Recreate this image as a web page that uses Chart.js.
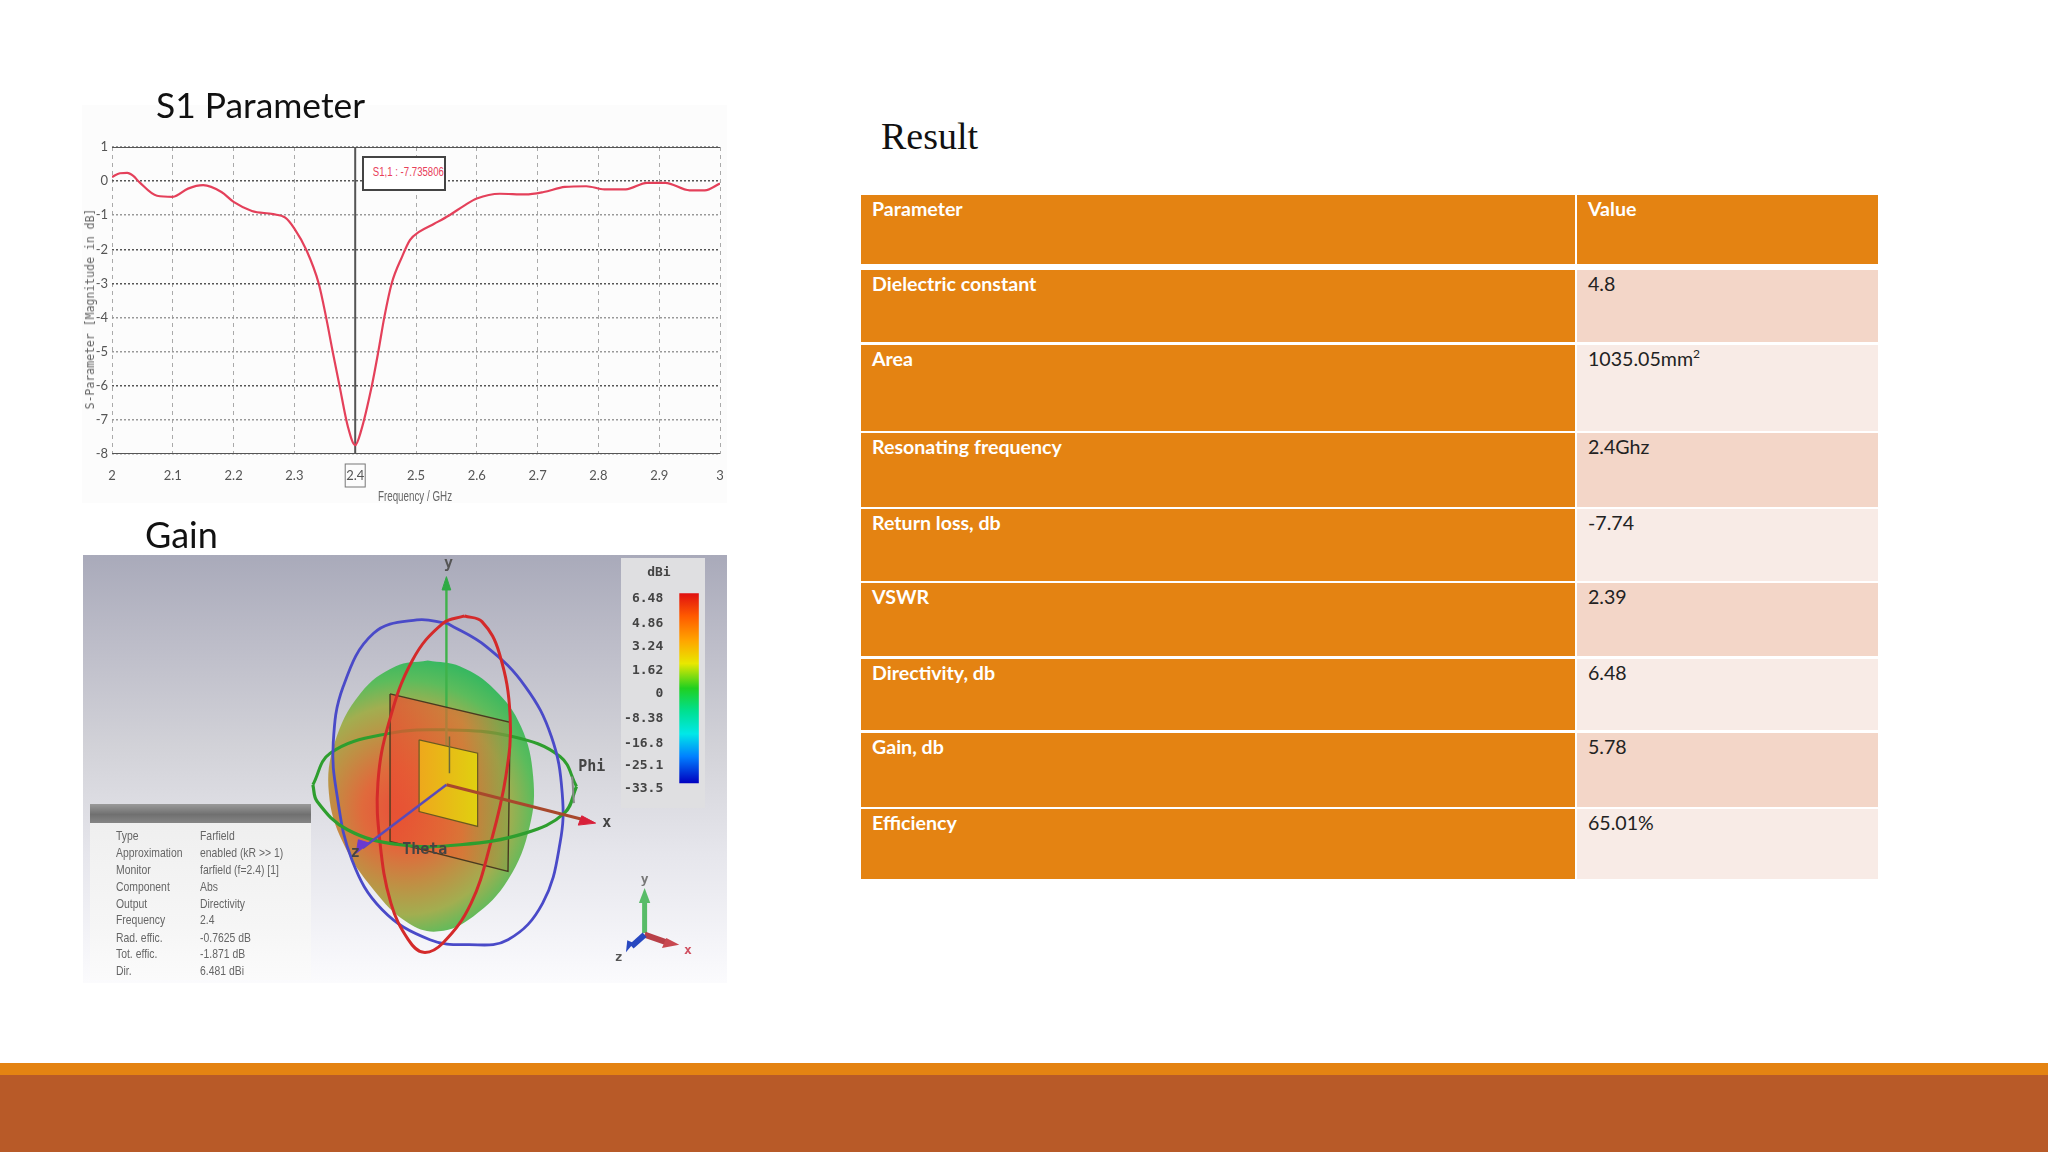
<!DOCTYPE html>
<html><head><meta charset="utf-8">
<script src="https://cdn.jsdelivr.net/npm/chart.js@4/dist/chart.umd.js"></script>
<style>
html,body{margin:0;padding:0;background:#fff;width:2048px;height:1152px;overflow:hidden;position:relative}
.abs{position:absolute}
.ttl{position:absolute;font-family:Lato,"Noto Sans",sans-serif;color:#111;line-height:1;white-space:nowrap}
#sPanel{left:82px;top:105px;width:645px;height:398px;background:#fcfcfc;filter:blur(.55px)}
#sCanvas{position:absolute;left:-12px;top:26px}
#marker{position:absolute;left:280px;top:51px;width:84px;height:35px;border:2px solid #444;background:#fff;box-sizing:border-box;color:#e8405a;font:12px "Liberation Sans",sans-serif;line-height:29px;text-align:center;white-space:nowrap}
#marker span{display:inline-block;transform:scaleX(.8);transform-origin:center}
#yTitle{position:absolute;left:8px;top:204px;transform:translate(-50%,-50%) rotate(-90deg);font:11.5px "DejaVu Sans Mono",monospace;color:#666;white-space:nowrap}
#xTitle{position:absolute;left:333px;top:391px;transform:translate(-50%,-50%) scaleX(.7);font:14px "Liberation Sans",sans-serif;color:#666;white-space:nowrap}
#gPanel{left:83px;top:555px;width:644px;height:428px;background:linear-gradient(180deg,#a9aaba 0%,#bcbcc8 20%,#d2d2d8 45%,#e6e6ec 70%,#f4f4f8 90%,#fbfbfd 100%);filter:blur(.6px);overflow:hidden}
#gPanel canvas{position:absolute;left:0;top:0}
.lbl{position:absolute;white-space:nowrap;line-height:1}
#info{position:absolute;left:7px;top:249px;width:221px;height:176px;background:linear-gradient(180deg,#eeeeee,#f6f6f6 70%,#fbfbfb)}
#infoHead{position:absolute;left:7px;top:249px;width:221px;height:19px;background:linear-gradient(180deg,#9a9a9a,#707070 55%,#858585)}
#cbPanel{position:absolute;left:538px;top:3px;width:84px;height:250px;background:#dfdfe1}
#tbl{position:absolute;left:861px;top:195px;width:1017px;height:684px;font-family:Lato,"Noto Sans",sans-serif;font-size:19.6px}
.cell{position:absolute;box-sizing:border-box;padding:2px 0 0 11px;line-height:1.2}
.k{background:#E48312;color:#fff;font-weight:700}
.v{color:#222}
sup{font-size:12px;line-height:0}
#band1{left:0;top:1063px;width:2048px;height:12px;background:#E48312}
#band2{left:0;top:1075px;width:2048px;height:77px;background:#B85A28}
</style></head><body>
<div id="sPanel" class="abs"><canvas id="sCanvas" width="680" height="380" style="width:680px;height:380px"></canvas>
<div id="marker"><span></span></div><div id="yTitle"></div><div id="xTitle"></div></div>
<div class="ttl" style="left:156px;top:87px;font-size:35.4px">S1 Parameter</div>
<div class="ttl" style="left:145px;top:516px;font-size:36px">Gain</div>
<div class="ttl" style="left:881px;top:117px;font-size:38px;font-family:'Liberation Serif',serif">Result</div>
<div id="gPanel" class="abs">
  <div id="cbPanel"></div>
  <div id="info"></div><div id="infoHead"></div>
  <canvas id="gCanvas" width="644" height="428" style="width:644px;height:428px"></canvas>
  <div id="gText"></div>
</div>
<div id="tbl"></div>
<div id="band1" class="abs"></div><div id="band2" class="abs"></div>
<script>
// ---------- S-parameter data ----------
const freqGHz = [2,2.013,2.025,2.035,2.045,2.074,2.1,2.125,2.15,2.18,2.2,2.23,2.265,2.285,2.3,2.32,2.34,2.352,2.363,2.374,2.388,2.4,2.41,2.427,2.438,2.448,2.46,2.477,2.49,2.505,2.53,2.555,2.58,2.6,2.638,2.68,2.71,2.745,2.78,2.81,2.845,2.88,2.91,2.95,2.975,3];
const s11dB = [0.12,0.23,0.24,0.15,-0.03,-0.43,-0.46,-0.22,-0.12,-0.32,-0.61,-0.875,-0.97,-1.07,-1.39,-2.03,-3.0,-3.98,-5.0,-5.98,-7.2,-7.74,-7.3,-6.03,-5.0,-3.98,-3.0,-2.22,-1.73,-1.49,-1.25,-1.0,-0.71,-0.51,-0.37,-0.39,-0.32,-0.17,-0.15,-0.24,-0.24,-0.05,-0.05,-0.27,-0.27,-0.07];
const xTicks = [2,2.1,2.2,2.3,2.4,2.5,2.6,2.7,2.8,2.9,3];
const yTicks = [1,0,-1,-2,-3,-4,-5,-6,-7,-8];
const markerFreq = 2.4;
const markerText = "S1,1 : -7.735806";
const xTitle = "Frequency / GHz";
const yTitle = "S-Parameter [Magnitude in dB]";

// ---------- Result table ----------
const paramNames = ["Parameter","Dielectric constant","Area","Resonating frequency","Return loss, db","VSWR","Directivity, db","Gain, db","Efficiency"];
const paramValues = ["Value","4.8","1035.05mm<sup>2</sup>","2.4Ghz","-7.74","2.39","6.48","5.78","65.01%"];
const rowTops = [0,75,150,238,314,388,464,538,614];
const rowBottoms = [69,147,236,312,386,461,535,612,684];

// ---------- Far-field picture outlines ----------
const blobX = [825,900,980,1040,1068,1060,1010,930,850,780,700,630,597,610,670,750,825];
const blobY = [452,470,540,650,800,950,1110,1220,1265,1240,1140,1000,850,700,550,470,452];
const plateX = [738,1015,1010,738,738];
const plateY = [552,637,1085,995,552];
const patchX = [805,940,940,805,805];
const patchY = [690,730,950,905,690];
const blueX = [870,800,700,630,607,615,650,720,830,920,1010,1090,1130,1135,1110,1050,960,870];
const blueY = [340,330,370,530,700,850,1050,1200,1290,1305,1290,1180,1000,850,680,530,410,340];
const redX = [910,860,790,735,710,715,740,780,815,860,925,970,1005,1015,990,950,910];
const redY = [318,340,450,640,820,1000,1180,1290,1328,1300,1180,1000,800,620,430,335,318];
const greenBackX = [1168,1130,1020,870,730,600,560];
const greenBackY = [830,740,680,660,672,730,825];
const greenFrontX = [560,570,640,760,900,1050,1140,1168];
const greenFrontY = [825,875,960,1005,1005,970,910,830];
const cbX = [1405,1450,1450,1405,1405];
const cbY = [250,250,820,820,250];
const axisYX = [868,868], axisYY = [825,215];
const axisXX = [868,1185], axisXY = [825,930];
const axisZX = [868,675], axisZY = [825,1015];
const headYX = [858,868,878,858], headYY = [240,200,240,240];
const headXX = [1180,1212,1172,1180], headXY = [918,940,946,918];
const headZX = [690,660,665,690], headZY = [1000,1030,990,1000];
const feedX = [875,875], feedY = [680,790];
const phiX = [1162,1158], phiY = [880,800];
const triYX = [1325,1325], triYY = [1270,1170];
const triXX = [1325,1380], triXY = [1275,1300];
const triZX = [1325,1295], triZY = [1275,1310];
const triHeadYX = [1312,1325,1338,1312], triHeadYY = [1180,1135,1180,1180];
const triHeadXX = [1375,1405,1365,1375], triHeadXY = [1285,1305,1315,1285];
const triHeadZX = [1300,1282,1285,1300], triHeadZY = [1300,1328,1292,1300];

const cbLabels = ["6.48","4.86","3.24","1.62","0","-8.38","-16.8","-25.1","-33.5"];
const cbLabelY = [262,337,405,477,547,620,695,762,830];
const infoKeys = ["Type","Approximation","Monitor","Component","Output","Frequency","Rad. effic.","Tot. effic.","Dir."];
const infoVals = ["Farfield","enabled (kR >> 1)","farfield (f=2.4) [1]","Abs","Directivity","2.4","-0.7625 dB","-1.871 dB","6.481 dBi"];
const infoY = [975,1027,1077,1127,1180,1227,1280,1328,1380];
const sceneLabels = [["y",873,158,"#555",15],["x",1238,937,"#444",15],["z",658,1025,"#444",15],["Phi",1203,768,"#444",15],["Theta",818,1018,"#444",15],["dBi",1358,183,"#444",13],["y",1325,1103,"#777",13],["x",1425,1318,"#d05060",13],["z",1265,1338,"#555",13]];

// ---------- S-parameter chart ----------
document.querySelector('#marker span').textContent = markerText;
document.getElementById('yTitle').textContent = yTitle;
document.getElementById('xTitle').textContent = xTitle;
const pts = (xs, ys) => xs.map((x,i)=>({x, y: ys[i]}));
const darkRows = [0,-2,-3,-6];
const boxTick = {
  id:'boxTick',
  afterDraw(c){
    const x=c.scales.x.getPixelForValue(markerFreq), y=c.chartArea.bottom, g=c.ctx;
    g.save(); g.strokeStyle='#777'; g.lineWidth=1; g.strokeRect(x-10,y+10,20,23); g.restore();
  }
};
const tickFont='Lato,"Liberation Sans",sans-serif';
new Chart(document.getElementById('sCanvas'),{
  type:'scatter',
  plugins:[boxTick],
  data:{datasets:[
    {data:pts(freqGHz,s11dB),showLine:true,borderColor:'#e4405a',borderWidth:2.2,pointRadius:0,cubicInterpolationMode:'monotone',order:1},
    {data:pts([markerFreq,markerFreq],[yTicks[0],yTicks[9]]),showLine:true,borderColor:'#555',borderWidth:2,pointRadius:0,order:2},
    {data:pts([2,3],[yTicks[0],yTicks[0]]),showLine:true,borderColor:'#555',borderWidth:2,pointRadius:0,order:3},
    {data:pts([2,3],[yTicks[9],yTicks[9]]),showLine:true,borderColor:'#555',borderWidth:2,pointRadius:0,order:3}
  ]},
  options:{
    responsive:false,animation:false,
    layout:{padding:{top:16,right:30,left:0,bottom:0}},
    plugins:{legend:{display:false},tooltip:{enabled:false}},
    scales:{
      x:{type:'linear',min:2,max:3,afterBuildTicks:a=>{a.ticks=xTicks.map(v=>({value:v}))},afterFit:s=>{s.height=57},
        grid:{color:'#aaa',lineWidth:1,drawTicks:false},border:{dash:[4,4],display:false},
        ticks:{padding:14,maxRotation:0,color:'#555',font:{family:tickFont,size:13},callback:v=>String(v)}},
      y:{type:'linear',min:-8,max:1,afterBuildTicks:a=>{a.ticks=yTicks.map(v=>({value:v}))},afterFit:s=>{s.width=42},
        grid:{color:c=>darkRows.includes(c.tick&&c.tick.value)?'#555':'#999',lineWidth:1.5,drawTicks:false},border:{dash:[2,2],display:false},
        ticks:{padding:4,color:'#555',font:{family:tickFont,size:13},callback:v=>String(v)}}
    }
  }
});

// ---------- Far-field chart ----------
function blobFill(c){
  const a=c.chart.chartArea; if(!a) return '#90b060';
  const sx=c.chart.scales.x, sy=c.chart.scales.y, g=c.chart.ctx;
  const cx=sx.getPixelForValue(770), cy=sy.getPixelForValue(900);
  const gr=g.createRadialGradient(cx,cy,5,cx,cy,152);
  gr.addColorStop(0,'#e8503a');gr.addColorStop(.25,'#e06a3c');gr.addColorStop(.48,'#bf9044');gr.addColorStop(.68,'#a2ae50');gr.addColorStop(.85,'#5cbc5c');gr.addColorStop(1,'#38b860');
  return gr;
}
function patchFill(c){
  const a=c.chart.chartArea; if(!a) return '#e8c010';
  const sx=c.chart.scales.x,g=c.chart.ctx;
  const gr=g.createLinearGradient(sx.getPixelForValue(805),0,sx.getPixelForValue(940),0);
  gr.addColorStop(0,'#eea81c');gr.addColorStop(1,'#e0d010');return gr;
}
function plateFill(c){
  const a=c.chart.chartArea; if(!a) return 'rgba(230,100,50,.5)';
  const sx=c.chart.scales.x,g=c.chart.ctx;
  const gr=g.createLinearGradient(sx.getPixelForValue(738),0,sx.getPixelForValue(1015),0);
  gr.addColorStop(0,'rgba(232,80,50,.78)');gr.addColorStop(.6,'rgba(224,110,50,.66)');gr.addColorStop(1,'rgba(130,160,70,.6)');return gr;
}
function cbFill(c){
  const a=c.chart.chartArea; if(!a) return '#0f0';
  const sy=c.chart.scales.y,g=c.chart.ctx;
  const gr=g.createLinearGradient(0,sy.getPixelForValue(250),0,sy.getPixelForValue(820));
  [[0,'#e01010'],[.12,'#ff5a00'],[.25,'#ffa500'],[.37,'#e8e800'],[.5,'#20d020'],[.62,'#00e090'],[.74,'#00e8e8'],[.86,'#0080ff'],[1,'#0000c0']].forEach(s=>gr.addColorStop(s[0],s[1]));
  return gr;
}
const shapes = [
  {xs:blobX,ys:blobY,fill:blobFill,tension:.4},
  {xs:greenBackX,ys:greenBackY,line:'#2e9e2e',w:3,tension:.4},
  {xs:axisYX,ys:axisYY,line:'#3fb24a',w:2.4},
  {xs:plateX,ys:plateY,fill:plateFill,line:'#4a3a20',w:1.4},
  {xs:patchX,ys:patchY,fill:patchFill,line:'#6a5a20',w:1.2},
  {xs:cbX,ys:cbY,fill:cbFill},
  {xs:blueX,ys:blueY,line:'#4a4ac8',w:2.8,tension:.4},
  {xs:redX,ys:redY,line:'#d42a2a',w:3,tension:.4},
  {xs:greenFrontX,ys:greenFrontY,line:'#2e9e2e',w:3.2,tension:.4},
  {xs:headYX,ys:headYY,fill:'#2faa44',line:'#2faa44',w:1},
  {xs:axisXX,ys:axisXY,line:'#a8482c',w:3},
  {xs:headXX,ys:headXY,fill:'#d8203a',line:'#d8203a',w:1},
  {xs:axisZX,ys:axisZY,line:'#5a4ab8',w:2.5},
  {xs:headZX,ys:headZY,fill:'#6a3ad0',line:'#6a3ad0',w:1},
  {xs:feedX,ys:feedY,line:'#6a6a3a',w:1.5},
  {xs:phiX,ys:phiY,line:'#8a8a8a',w:2},
  {xs:triYX,ys:triYY,line:'#58bc68',w:5},
  {xs:triHeadYX,ys:triHeadYY,fill:'#58bc68'},
  {xs:triXX,ys:triXY,line:'#b84048',w:6},
  {xs:triHeadXX,ys:triHeadXY,fill:'#c84850'},
  {xs:triZX,ys:triZY,line:'#2848c0',w:6},
  {xs:triHeadZX,ys:triHeadZY,fill:'#2848c0'}
];
new Chart(document.getElementById('gCanvas'),{
  type:'scatter',
  data:{datasets:shapes.map((s,i)=>({
    data:pts(s.xs,s.ys),showLine:true,pointRadius:0,order:shapes.length-i,
    tension:s.tension||0,borderColor:s.line||'rgba(0,0,0,0)',borderWidth:s.w||0,
    fill:s.fill?'shape':false,backgroundColor:s.fill||'rgba(0,0,0,0)'
  }))},
  options:{responsive:false,animation:false,layout:{padding:0},
    plugins:{legend:{display:false},tooltip:{enabled:false}},
    scales:{x:{type:'linear',display:false,min:30,max:1515},y:{type:'linear',display:false,reverse:true,min:135,max:1420}}}
});

// ---------- Real text for the far-field picture ----------
const gt=document.getElementById('gText');
const gx=X=>(X-30)/2.306, gy=Y=>(Y-135)/3;
function addText(t,X,Y,css,align){
  const d=document.createElement('div');d.className='lbl';d.textContent=t;d.style.cssText=css;
  d.style.left=gx(X)+'px';d.style.top=gy(Y)+'px';
  d.style.transform=(align==='r'?'translate(-100%,-50%)':align==='c'?'translate(-50%,-50%)':'translateY(-50%)')+(css.includes('--n')?' scaleX(.8)':'');
  d.style.transformOrigin='left center';gt.appendChild(d);
}
const mono='font-family:"DejaVu Sans Mono",monospace;font-weight:700;';
cbLabels.forEach((t,i)=>addText(t,1368,cbLabelY[i],mono+'font-size:13px;color:#444;','r'));
sceneLabels.forEach(s=>addText(s[0],s[1],s[2],mono+'font-size:'+s[4]+'px;color:'+s[3]+';','c'));
const infoCss='--n:1;font-family:"Liberation Sans",sans-serif;font-size:13px;color:#666;';
infoKeys.forEach((t,i)=>{addText(t,105,infoY[i],infoCss);addText(infoVals[i],300,infoY[i],infoCss);});

// ---------- Result table ----------
const tbl=document.getElementById('tbl');
const colSplit=[0,714,716,1017];
paramNames.forEach((name,i)=>{
  const h=rowBottoms[i]-rowTops[i];
  const a=document.createElement('div');a.className='cell k';a.textContent=name;
  a.style.cssText=`left:0;top:${rowTops[i]}px;width:${colSplit[1]}px;height:${h}px`;tbl.appendChild(a);
  const b=document.createElement('div');b.className='cell '+(i===0?'k':'v');b.innerHTML=paramValues[i];
  const bg=i===0?'#E48312':(i%2?'#F3D6C8':'#F8EBE6');
  b.style.cssText=`left:${colSplit[2]}px;top:${rowTops[i]}px;width:${colSplit[3]-colSplit[2]}px;height:${h}px;background:${bg}`;tbl.appendChild(b);
});
</script>
</body></html>
